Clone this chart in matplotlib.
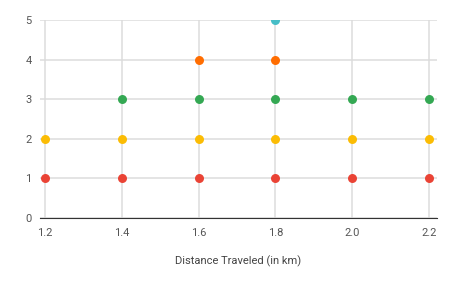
import matplotlib
matplotlib.use("Agg")
from matplotlib import pyplot as plt

# data
distance = [1.2, 1.4, 1.6, 1.8, 2.0, 2.2]
series_x = [
    distance,
    distance,
    [1.4, 1.6, 1.8, 2.0, 2.2],
    [1.6, 1.8],
    [1.8],
]
series_y = [1, 2, 3, 4, 5]
colors = ["#ea4335", "#fbbc04", "#34a853", "#ff6d01", "#46bdc6"]
xticks = [1.2, 1.4, 1.6, 1.8, 2.0, 2.2]
yticks = [0, 1, 2, 3, 4, 5]

plt.rcParams['font.family'] = ['Roboto', 'DejaVu Sans']

fig = plt.figure(figsize=(4.5, 2.81), dpi=100)
ax = fig.add_axes([40 / 450, 1 - 218 / 281, 397 / 450, 198 / 281])

for xs, yv, c in zip(series_x, series_y, colors):
    ax.scatter(xs, [yv] * len(xs), s=42, color=c, zorder=3, linewidths=0)

ax.set_xlim(1.187, 2.221)
ax.set_ylim(0, 5)
ax.set_xticks(xticks)
ax.set_xticklabels(["%.1f" % v for v in xticks])
ax.set_yticks(yticks)
ax.grid(True, color="#dcdcdc", linewidth=1.1)
ax.set_axisbelow(True)
for side in ["top", "right", "left"]:
    ax.spines[side].set_visible(False)
ax.spines["bottom"].set_color("#333333")
ax.tick_params(length=0, labelsize=8, colors="#555555")
ax.tick_params(axis="x", pad=7)
ax.tick_params(axis="y", pad=6)
ax.set_xlabel("Distance Traveled (in km)", fontsize=8, color="#444444", labelpad=13)

fig.savefig("out.png", dpi=100)
